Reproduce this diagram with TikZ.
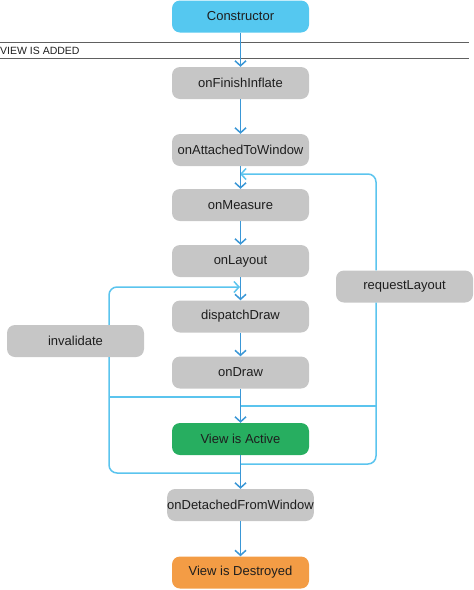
\documentclass[tikz,border=0pt]{standalone}
\usepackage{fontspec}
\setmainfont{Liberation Sans}
\usetikzlibrary{arrows.meta}
\definecolor{cyanbox}{HTML}{55C8F0}
\definecolor{graybox}{HTML}{C6C6C6}
\definecolor{greenbox}{HTML}{27AE60}
\definecolor{orangebox}{HTML}{F39C45}
\definecolor{mainline}{HTML}{3A97D6}
\definecolor{loopline}{HTML}{5BC4EE}
\definecolor{txt}{HTML}{1E1E1E}
\definecolor{rule}{HTML}{606060}
\tikzset{
  stepbox/.style={rectangle, rounded corners=8pt, minimum width=137pt, minimum height=32pt,
    inner sep=0pt, font=\fontsize{13}{15}\selectfont, text=txt},
  grey/.style={stepbox, fill=graybox},
  flow/.style={draw=mainline, line width=1.5pt, -{Straight Barb[length=5pt,width=11pt,line width=1.5pt]}},
  loopln/.style={draw=loopline, line width=1.5pt, rounded corners=8pt},
  looparrow/.style={loopln, -{Straight Barb[length=5pt,width=11pt,line width=1.5pt]}},
}
\begin{document}
\begin{tikzpicture}[x=1pt,y=-1pt]
\useasboundingbox (0,0) rectangle (474,590);
% rules
\coordinate (r1a) at (0,42); \coordinate (r1b) at (469,42);
\coordinate (r2a) at (0,58); \coordinate (r2b) at (469,58);
\draw[rule, line width=1pt] (r1a) -- (r1b);
\draw[rule, line width=1pt] (r2a) -- (r2b);
\node[anchor=west, inner sep=0pt, font=\fontsize{10.5}{12}\selectfont, text=txt] (added) at (0,50.5) {VIEW IS ADDED};
% boxes
\node[stepbox, fill=cyanbox] (ctor) at (240.5,16.5) {Constructor};
\node[grey] (fin) at (240.5,83) {onFinishInflate};
\node[grey] (att) at (240.5,150) {onAttachedToWindow};
\node[grey] (mea) at (240.5,205) {onMeasure};
\node[grey] (lay) at (240.5,261) {onLayout};
\node[grey] (dis) at (240.5,316.5) {dispatchDraw};
\node[grey] (drw) at (240.5,372.5) {onDraw};
\node[stepbox, fill=greenbox] (act) at (240.5,439) {View is Active};
\node[grey] (det) at (240.5,505) {onDetachedFromWindow};
\node[stepbox, fill=orangebox] (des) at (240.5,572.5) {View is Destroyed};
\node[grey] (inv) at (75.5,341) {invalidate};
\node[grey] (req) at (404.5,286.5) {requestLayout};
% loop coordinates
\coordinate (tr) at (240,174);
\coordinate (tl) at (240,287);
\coordinate (bl) at (240,473);
\coordinate (br) at (240,464);
\coordinate (ml) at (240,397);
\coordinate (mr) at (240,406);
% loops
\draw[looparrow] (req.north -| 376,0) |- (tr);
\draw[loopln] (req.south -| 376,0) |- (br);
\draw[loopln] (mr) -- (mr -| 376,0);
\draw[looparrow] (inv.north -| 109,0) |- (tl);
\draw[loopln] (inv.south -| 109,0) |- (bl);
\draw[loopln] (ml -| 109,0) -- (ml);
% main flow
\draw[flow] (ctor) -- (fin);
\draw[flow] (fin) -- (att);
\draw[flow] (att) -- (mea);
\draw[flow] (mea) -- (lay);
\draw[flow] (lay) -- (dis);
\draw[flow] (dis) -- (drw);
\draw[flow] (drw) -- (act);
\draw[flow] (act) -- (det);
\draw[flow] (det) -- (des);
\end{tikzpicture}
\end{document}
